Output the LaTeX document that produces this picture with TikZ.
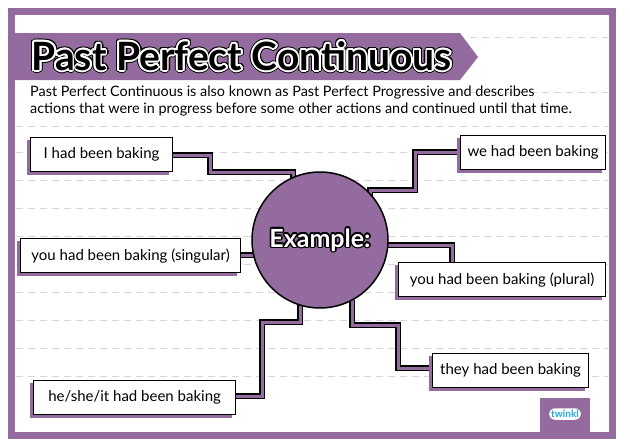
\documentclass[tikz,border=0pt]{standalone}
\usepackage{fontspec}
\setmainfont{Lato}
\usetikzlibrary{positioning}
\definecolor{twpurple}{RGB}{147,107,158}
\definecolor{twlight}{RGB}{222,210,228}
\definecolor{twblue}{RGB}{30,170,220}
\tikzset{
	baking/.style={draw=black,line width=1.2pt,fill=white,inner sep=0pt,minimum height=34pt,font=\fontsize{15}{17}\selectfont,align=center},
	shade box/.style={fill=twpurple,draw=none},
	guide/.style={twlight,line width=1pt,dash pattern=on 7pt off 5pt},
	pipe/.style={line width=6pt,black,line join=miter},
	pipe fill/.style={line width=3pt,twpurple,line join=miter}
}
% outlined text: node options, text, outline colour, position, width
\newcommand{\ringtext}[5]{%
	\foreach \a in {0,30,...,330}{\node[#1,text=#3] at ([shift={(\a:#5)}]#4) {\textbf{#2}};}
}
\begin{document}
\begin{tikzpicture}[x=1pt,y=-1pt]
			\useasboundingbox (0,0) rectangle (630,445);
			\fill[white] (0,0) rectangle (630,445);
			% frame
			\draw[twpurple,line width=7pt] (11,11) rectangle (612,435);
			\fill[twpurple] (540,398) rectangle (590,435);
			\node[fill=white,rounded corners=6pt,inner sep=2pt,font=\bfseries\fontsize{10}{10}\selectfont,text=twblue] (logo) at (565,414) {twinkl};
			% guide lines
			\draw[guide] (470,37) -- (608,37);
			\draw[guide] (470,92) -- (608,92);
			\foreach \y in {126,152,180,208,236,264,292,320,348,376}
			\draw[guide] (16,\y) -- (608,\y);
			% title banner
			\fill[twpurple] (15,33) -- (460,33) -- (478,57) -- (460,80) -- (15,80) -- cycle;
			\ringtext{font=\fontsize{39}{40}\selectfont,anchor=west}{Past Perfect Continuous}{black}{28,56}{3pt}
			\ringtext{font=\fontsize{39}{40}\selectfont,anchor=west}{Past Perfect Continuous}{white}{28,56}{1.8pt}
			\node[font=\fontsize{39}{40}\selectfont,anchor=west] (title) at (28,56) {\textbf{Past Perfect Continuous}};
			\node[anchor=north west,align=left,font=\fontsize{14.4}{17}\selectfont,inner sep=0pt] (intro) at (30,86)
			{Past Perfect Continuous is also known as Past Perfect Progressive and describes\\actions that were in progress before some other actions and continued until that time.};
			% connectors
			\coordinate (ex) at (320,240);
			\foreach \s in {pipe,pipe fill}{
				\draw[\s] (170,155) -- (210,155) -- (210,172) -- (293,172) -- (293,184);
				\draw[\s] (462,152) -- (415,152) -- (415,190) -- (370,190) -- (370,206);
				\draw[\s] (238,255) -- (256,255);
				\draw[\s] (386,245) -- (452,245) -- (452,264);
				\draw[\s] (352,300) -- (352,325) -- (398,325) -- (398,368) -- (434,368);
				\draw[\s] (300,302) -- (300,322) -- (262,322) -- (262,396) -- (233,396);
			}
			\draw[line width=1.5pt,fill=twpurple] (ex) circle (68);
			\ringtext{font=\fontsize{25}{26}\selectfont}{Example:}{black}{320,240}{1.5pt}
			\node[font=\fontsize{25}{26}\selectfont,text=white] (exlabel) at (ex) {\textbf{Example:}};
			% boxes
			\foreach \n/\x/\y/\w/\t in {
				b1/30/137/142/I had been baking,
				b2/460/135/145/we had been baking,
				b3/20/238/220/you had been baking (singular),
				b4/398/262/207/you had been baking (plural),
				b5/432/353/156/they had been baking,
				b6/33/380/202/{he/she/it had been baking}}{
				\fill[shade box] (\x-3,\y+3) rectangle ++(\w,35);
				\node[baking,anchor=north west,minimum width=\w pt] (\n) at (\x,\y) {\t};
			}
\end{tikzpicture}
\end{document}
